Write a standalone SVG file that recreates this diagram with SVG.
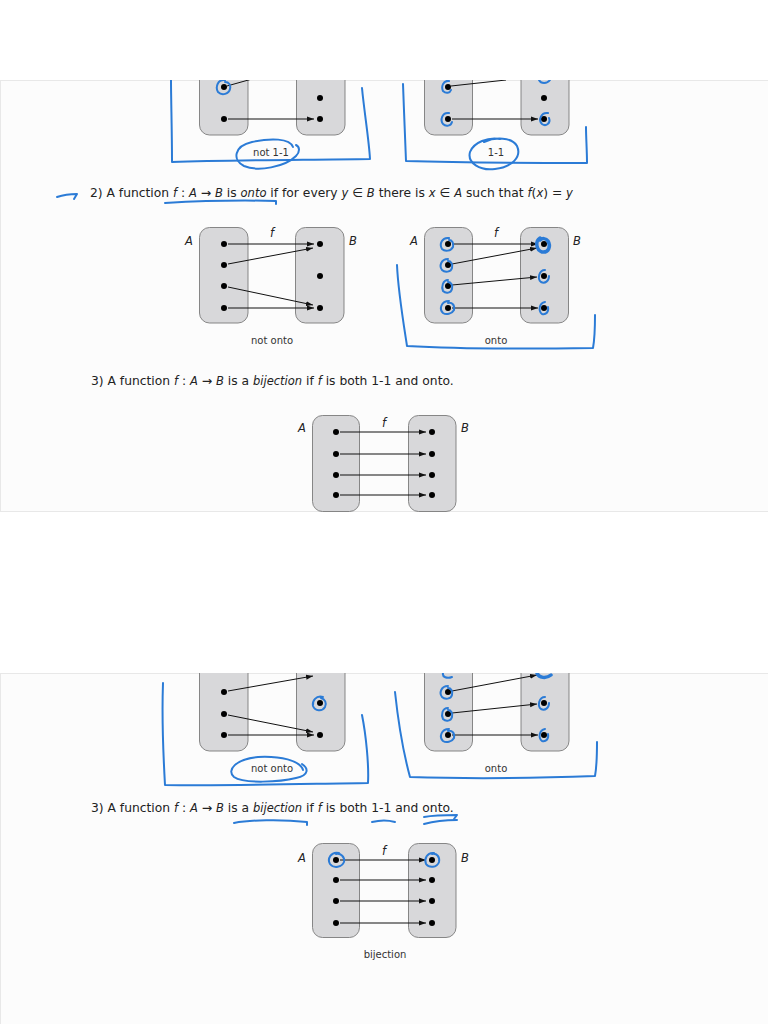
<svg xmlns="http://www.w3.org/2000/svg" width="768" height="1024" viewBox="0 0 768 1024">
<defs>
<style>
.panel{fill:#fcfcfc;stroke:#e8e8e8;stroke-width:1}
.box{fill:#d8d8da;stroke:#7a7a7a;stroke-width:0.9}
.dot{fill:#000}
.ar{stroke:#111;stroke-width:1;fill:none;marker-end:url(#ah)}
.ln{stroke:#111;stroke-width:1;fill:none}
.ink{fill:none;stroke:#2b7bd6;stroke-width:2;stroke-linecap:round;stroke-linejoin:round}
.inkb{fill:none;stroke:#2b7bd6;stroke-width:3.5;stroke-linecap:round}
.t{font-family:"DejaVu Sans",sans-serif;font-size:12.3px;fill:#222}
.lbl{font-family:"DejaVu Sans",sans-serif;font-size:10px;fill:#333}
.m{font-family:"DejaVu Sans",sans-serif;font-size:11.5px;font-style:italic;fill:#222}
</style>
<marker id="ah" viewBox="0 0 10 10" refX="10" refY="5" markerWidth="7" markerHeight="7" markerUnits="userSpaceOnUse" orient="auto">
<path d="M0,1.5 L10,5 L0,8.5 Z" fill="#111"/>
</marker>
<clipPath id="c1"><rect x="0" y="80" width="768" height="432"/></clipPath>
<clipPath id="c2"><rect x="0" y="673" width="768" height="351"/></clipPath>
</defs>
<rect width="768" height="1024" fill="#ffffff"/>

<!-- Top page panel -->
<rect class="panel" x="0.5" y="80.5" width="768" height="431"/>
<g clip-path="url(#c1)">
  <!-- section 1 (partial) -->
  <g id="s1-left">
    <rect class="box" x="199.5" y="40" width="48.5" height="95" rx="10"/>
    <rect class="box" x="296.5" y="40" width="48.5" height="95" rx="10"/>
    <circle class="dot" cx="224" cy="87" r="3"/>
    <circle class="dot" cx="224" cy="119" r="3"/>
    <circle class="dot" cx="320" cy="98" r="3"/>
    <circle class="dot" cx="320" cy="119" r="3"/>
    <line class="ln" x1="227" y1="86" x2="252" y2="79"/>
    <line class="ar" x1="228" y1="119" x2="314" y2="119"/>
    <text class="lbl" x="271" y="156" text-anchor="middle">not 1-1</text>
  </g>
  <g id="s1-right">
    <rect class="box" x="424.5" y="40" width="48" height="95" rx="10"/>
    <rect class="box" x="521" y="40" width="48" height="95" rx="10"/>
    <circle class="dot" cx="448" cy="87" r="3"/>
    <circle class="dot" cx="448" cy="119" r="3"/>
    <circle class="dot" cx="544" cy="98" r="3"/>
    <circle class="dot" cx="544" cy="119" r="3"/>
    <line class="ln" x1="451" y1="86" x2="506" y2="80"/>
    <line class="ar" x1="452" y1="119" x2="538" y2="119"/>
    <text class="lbl" x="496" y="156" text-anchor="middle">1-1</text>
  </g>
  <g id="s1-ink">
    <path class="ink" d="M225,80 C218,79 215,87 218,92 C222,96 229,94 230,89 C231,85 229,82 225,82"/>
    <path class="ink" d="M449,81 C443,80 441,87 443,91 C446,94 450,93 451,90"/>
    <path class="ink" d="M449,113 C442,112 440,120 443,124 C446,127 451,126 452,122"/>
    <path class="ink" d="M548,113 C541,112 538,120 542,124 C546,127 551,123 549,118"/>
    <path class="ink" d="M539,80 C541,84 547,84 550,80"/>
    <path class="ink" d="M171,80 C171,100 172,130 172,162 C230,160 300,160 370,159 C369,140 364,110 362,88"/>
    <path class="ink" d="M403,84 C404,110 405,140 406,161 C470,163 540,163 587,163 C587,150 586,138 586,127"/>
    <path class="ink" d="M293,147 C290,138 270,138 252,142 C234,146 232,160 244,166 C258,172 285,167 296,156 C300,152 300,147 296,145"/>
    <path class="ink" d="M500,139 C488,137 474,142 470,152 C467,163 480,171 495,169 C512,167 522,157 517,146 C512,137 495,137 484,142"/>
  </g>

  <!-- section 2 -->
  <g id="s2-text">
    <path class="ink" d="M57,197 C63,195 70,194 77,194 L74,199"/>
    <text class="t" x="90" y="197">2) A function <tspan class="m">f</tspan> : <tspan class="m">A</tspan> → <tspan class="m">B</tspan> is <tspan class="m">onto</tspan> if for every <tspan class="m">y</tspan> ∈ <tspan class="m">B</tspan> there is <tspan class="m">x</tspan> ∈ <tspan class="m">A</tspan> such that <tspan class="m">f</tspan>(<tspan class="m">x</tspan>) = <tspan class="m">y</tspan></text>
    <path class="ink" d="M165,203 C200,201 240,200 276,201 L276,204"/>
  </g>
  <g id="s2-left">
    <rect class="box" x="199.5" y="227.5" width="48.5" height="95.5" rx="10"/>
    <rect class="box" x="295.5" y="227.5" width="48.5" height="95.5" rx="10"/>
    <text class="m" x="189" y="245" text-anchor="middle">A</text>
    <text class="m" x="272" y="237" text-anchor="middle">f</text>
    <text class="m" x="353" y="245" text-anchor="middle">B</text>
    <circle class="dot" cx="224" cy="244" r="3"/>
    <circle class="dot" cx="224" cy="265" r="3"/>
    <circle class="dot" cx="224" cy="286" r="3"/>
    <circle class="dot" cx="224" cy="308" r="3"/>
    <circle class="dot" cx="320" cy="244" r="3"/>
    <circle class="dot" cx="320" cy="276" r="3"/>
    <circle class="dot" cx="320" cy="308" r="3"/>
    <line class="ar" x1="228" y1="244" x2="314" y2="244"/>
    <line class="ar" x1="228" y1="264" x2="313" y2="248"/>
    <line class="ar" x1="228" y1="287" x2="313" y2="305"/>
    <line class="ar" x1="228" y1="308" x2="314" y2="308"/>
    <text class="lbl" x="272" y="344" text-anchor="middle">not onto</text>
  </g>
  <g id="s2-right">
    <rect class="box" x="424.5" y="227.5" width="48" height="95.5" rx="10"/>
    <rect class="box" x="520.5" y="227.5" width="48" height="95.5" rx="10"/>
    <text class="m" x="414" y="245" text-anchor="middle">A</text>
    <text class="m" x="496" y="237" text-anchor="middle">f</text>
    <text class="m" x="577" y="245" text-anchor="middle">B</text>
    <circle class="dot" cx="448" cy="244" r="3"/>
    <circle class="dot" cx="448" cy="265" r="3"/>
    <circle class="dot" cx="448" cy="286" r="3"/>
    <circle class="dot" cx="448" cy="308" r="3"/>
    <circle class="dot" cx="544" cy="244" r="3"/>
    <circle class="dot" cx="544" cy="276" r="3"/>
    <circle class="dot" cx="544" cy="308" r="3"/>
    <line class="ar" x1="452" y1="244" x2="538" y2="244"/>
    <line class="ar" x1="452" y1="264" x2="537" y2="248"/>
    <line class="ar" x1="452" y1="285" x2="537" y2="277"/>
    <line class="ar" x1="452" y1="308" x2="538" y2="308"/>
    <text class="lbl" x="496" y="344" text-anchor="middle">onto</text>
  </g>
  <g id="s2-ink">
    <path class="ink" d="M449,238 C442,237 439,244 442,249 C445,252 451,251 453,247 C454,243 452,240 449,240"/>
    <path class="ink" d="M448,259 C441,259 439,266 442,270 C445,273 451,272 452,268 C453,264 451,261 448,261"/>
    <path class="ink" d="M448,280 C443,280 441,287 443,291 C446,294 451,293 452,289 C453,285 451,282 448,282"/>
    <path class="ink" d="M449,301 C441,301 439,309 443,313 C446,315 452,314 454,310 C455,305 452,302 448,303"/>
    <path class="inkb" d="M540,238 C535,241 536,250 542,252 C549,253 551,246 548,241 C546,238 542,238 540,240"/>
    <path class="ink" d="M545,270 C539,270 537,279 541,282 C545,284 549,281 549,276"/>
    <path class="ink" d="M545,302 C539,303 538,311 542,314 C546,315 549,312 548,307"/>
    <path class="ink" d="M397,265 C398,290 403,320 407,346 C460,349 530,349 593,348 C595,337 595,325 595,315"/>
  </g>

  <!-- section 3 -->
  <g id="s3-text">
    <text class="t" x="91" y="385">3) A function <tspan class="m">f</tspan> : <tspan class="m">A</tspan> → <tspan class="m">B</tspan> is a <tspan class="m">bijection</tspan> if <tspan class="m">f</tspan> is both 1-1 and onto.</text>
  </g>
  <g id="s3-diagram">
    <rect class="box" x="312.5" y="415.5" width="47" height="96" rx="10"/>
    <rect class="box" x="408.5" y="415.5" width="47.5" height="96" rx="10"/>
    <text class="m" x="302" y="432" text-anchor="middle">A</text>
    <text class="m" x="384" y="427" text-anchor="middle">f</text>
    <text class="m" x="465" y="432" text-anchor="middle">B</text>
    <circle class="dot" cx="336" cy="432" r="3"/>
    <circle class="dot" cx="336" cy="454" r="3"/>
    <circle class="dot" cx="336" cy="475" r="3"/>
    <circle class="dot" cx="336" cy="495" r="3"/>
    <circle class="dot" cx="432" cy="432" r="3"/>
    <circle class="dot" cx="432" cy="454" r="3"/>
    <circle class="dot" cx="432" cy="475" r="3"/>
    <circle class="dot" cx="432" cy="495" r="3"/>
    <line class="ar" x1="340" y1="432" x2="426" y2="432"/>
    <line class="ar" x1="340" y1="454" x2="426" y2="454"/>
    <line class="ar" x1="340" y1="475" x2="426" y2="475"/>
    <line class="ar" x1="340" y1="495" x2="426" y2="495"/>
  </g>
</g>

<!-- Bottom page panel -->
<rect class="panel" x="0.5" y="673.5" width="768" height="352"/>
<g clip-path="url(#c2)">
  <g id="b2-left">
    <rect class="box" x="199.5" y="640" width="48.5" height="111" rx="10"/>
    <rect class="box" x="296.5" y="640" width="48.5" height="111" rx="10"/>
    <circle class="dot" cx="224" cy="692" r="3"/>
    <circle class="dot" cx="224" cy="714" r="3"/>
    <circle class="dot" cx="224" cy="735" r="3"/>
    <circle class="dot" cx="320" cy="703" r="3"/>
    <circle class="dot" cx="320" cy="735" r="3"/>
    <line class="ar" x1="228" y1="691" x2="313" y2="676"/>
    <line class="ar" x1="228" y1="715" x2="313" y2="732"/>
    <line class="ar" x1="228" y1="735" x2="314" y2="735"/>
    <text class="lbl" x="272" y="772" text-anchor="middle">not onto</text>
  </g>
  <g id="b2-right">
    <rect class="box" x="424.5" y="640" width="48" height="111" rx="10"/>
    <rect class="box" x="521" y="640" width="48" height="111" rx="10"/>
    <circle class="dot" cx="448" cy="692" r="3"/>
    <circle class="dot" cx="448" cy="714" r="3"/>
    <circle class="dot" cx="448" cy="735" r="3"/>
    <circle class="dot" cx="544" cy="703" r="3"/>
    <circle class="dot" cx="544" cy="735" r="3"/>
    <line class="ar" x1="452" y1="691" x2="537" y2="675"/>
    <line class="ar" x1="452" y1="713" x2="537" y2="704"/>
    <line class="ar" x1="452" y1="735" x2="538" y2="735"/>
    <text class="lbl" x="496" y="772" text-anchor="middle">onto</text>
  </g>
  <g id="b2-ink">
    <path class="ink" d="M323,697 C316,695 312,701 313,706 C315,711 322,712 325,707 C327,703 325,699 321,698"/>
    <path class="ink" d="M443,673 C442,677 447,679 452,677"/>
    <path class="ink" d="M448,686 C441,686 439,693 442,697 C445,700 451,699 452,695 C453,691 451,688 448,688"/>
    <path class="ink" d="M448,708 C442,708 441,715 443,719 C446,722 451,721 452,717 C453,713 451,710 448,710"/>
    <path class="ink" d="M449,729 C441,729 439,737 443,741 C446,743 452,742 454,738 C455,733 452,730 448,731"/>
    <path class="inkb" d="M537,673 C539,678 546,679 551,675"/>
    <path class="ink" d="M545,697 C539,697 537,706 541,709 C545,711 549,708 549,703"/>
    <path class="ink" d="M545,729 C539,730 538,738 542,741 C546,742 549,739 548,734"/>
    <path class="ink" d="M163,683 C162,710 163,750 165,785 C230,786 300,784 368,783 C369,765 366,735 362,715"/>
    <path class="ink" d="M395,692 C398,720 404,755 410,777 C470,779 540,778 595,776 C597,765 597,752 597,742"/>
    <path class="ink" d="M303,770 C300,760 280,756 258,757 C236,759 226,770 234,777 C244,784 280,782 296,778 C310,775 308,768 302,764"/>
  </g>
  <g id="b3-text">
    <text class="t" x="91" y="812">3) A function <tspan class="m">f</tspan> : <tspan class="m">A</tspan> → <tspan class="m">B</tspan> is a <tspan class="m">bijection</tspan> if <tspan class="m">f</tspan> is both 1-1 and onto.</text>
    <path class="ink" d="M234,823 C250,820 280,819 307,822 L307,825" stroke-width="1.8"/>
    <path class="ink" d="M372,822 C380,820 388,820 395,822" stroke-width="1.8"/>
    <path class="ink" d="M424,817 C435,815 447,815 457,815 L454,819" stroke-width="1.6"/>
    <path class="ink" d="M424,824 C435,821 447,820 457,820" stroke-width="1.6"/>
  </g>
  <g id="b3-diagram">
    <rect class="box" x="312.5" y="843.5" width="47" height="94" rx="10"/>
    <rect class="box" x="408.5" y="843.5" width="47.5" height="94" rx="10"/>
    <text class="m" x="302" y="862" text-anchor="middle">A</text>
    <text class="m" x="384" y="855" text-anchor="middle">f</text>
    <text class="m" x="465" y="862" text-anchor="middle">B</text>
    <circle class="dot" cx="336" cy="860" r="3"/>
    <circle class="dot" cx="336" cy="880" r="3"/>
    <circle class="dot" cx="336" cy="901" r="3"/>
    <circle class="dot" cx="336" cy="923" r="3"/>
    <circle class="dot" cx="432" cy="860" r="3"/>
    <circle class="dot" cx="432" cy="880" r="3"/>
    <circle class="dot" cx="432" cy="901" r="3"/>
    <circle class="dot" cx="432" cy="923" r="3"/>
    <line class="ar" x1="340" y1="860" x2="426" y2="860"/>
    <line class="ar" x1="340" y1="880" x2="426" y2="880"/>
    <line class="ar" x1="340" y1="901" x2="426" y2="901"/>
    <line class="ar" x1="340" y1="923" x2="426" y2="923"/>
    <path class="ink" d="M339,853 C331,851 327,859 330,864 C334,869 342,867 344,862 C345,857 341,853 336,854"/>
    <path class="ink" d="M434,853 C427,852 424,859 426,864 C429,868 437,868 439,862 C440,857 437,853 432,854"/>
    <text class="lbl" x="385" y="958" text-anchor="middle">bijection</text>
  </g>
</g>
</svg>
